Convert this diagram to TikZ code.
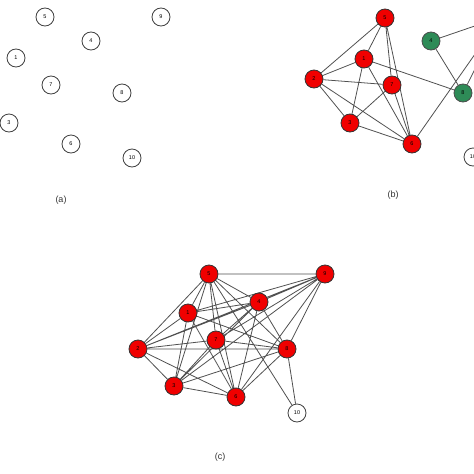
\documentclass[tikz,border=0pt]{standalone}
\usepackage{fontspec}
\setmainfont{Liberation Sans}
\usetikzlibrary{backgrounds}

\definecolor{nodered}{RGB}{240,0,0}
\definecolor{nodegreen}{RGB}{46,139,87}
\definecolor{edgegray}{RGB}{80,80,80}

\begin{document}
\begin{tikzpicture}[x=1pt, y=-1pt,
	vertex/.style={circle, minimum size=18pt, inner sep=0pt,
		draw=black!75, line width=0.8pt, font=\fontsize{5.5}{6}\selectfont},
	plain/.style={vertex, fill=white},
	redv/.style={vertex, fill=nodered, draw=black!80},
	greenv/.style={vertex, fill=nodegreen, draw=black!70},
	edge/.style={draw=edgegray, line width=0.8pt},
	caption/.style={font=\fontsize{9}{10}\selectfont, text=black!80}]
	\useasboundingbox (0,0) rectangle (474,474);
	\clip (0,0) rectangle (474,474);
	% (a) isolated nodes
	\node[plain] (a5) at (45,17) {5};
	\node[plain] (a9) at (161,17) {9};
	\node[plain] (a4) at (91,41) {4};
	\node[plain] (a1) at (16,58) {1};
	\node[plain] (a7) at (51,85) {7};
	\node[plain] (a8) at (122,93) {8};
	\node[plain] (a3) at (9,123) {3};
	\node[plain] (a6) at (71,144) {6};
	\node[plain] (a10) at (132,158) {10};
	\node[caption] (la) at (61,200) {(a)};
	% (b) two communities
	\node[redv] (b5) at (385,18) {5};
	\node[redv] (b1) at (364,59) {1};
	\node[redv] (b2) at (314,79) {2};
	\node[redv] (b7) at (392,85) {7};
	\node[redv] (b3) at (350,123) {3};
	\node[redv] (b6) at (412,144) {6};
	\node[greenv] (b4) at (431,41) {4};
	\node[greenv] (b8) at (463,93) {8};
	\node[plain] (b9) at (501,17) {9};
	\node[plain] (b10) at (473,157) {10};
	\node[caption] (lb) at (393,195) {(b)};
	% (c) merged
	\node[redv] (c5) at (209,274) {5};
	\node[redv] (c9) at (325,274) {9};
	\node[redv] (c4) at (259,302) {4};
	\node[redv] (c1) at (188,313) {1};
	\node[redv] (c7) at (216,340) {7};
	\node[redv] (c2) at (138,349) {2};
	\node[redv] (c8) at (287,349) {8};
	\node[redv] (c3) at (174,386) {3};
	\node[redv] (c6) at (236,397) {6};
	\node[plain] (c10) at (297,413) {10};
	\node[caption] (lc) at (220,457) {(c)};
	\begin{pgfonlayer}{background}
		\draw[edge] (b5) -- (b2) (b5) -- (b1) (b5) -- (b7) (b5) -- (b6)
			(b1) -- (b2) (b1) -- (b3) (b1) -- (b6) (b1) -- (b8)
			(b2) -- (b7) (b2) -- (b3) (b2) -- (b6)
			(b7) -- (b3) (b7) -- (b6) (b3) -- (b6)
			(b4) -- (b8) (b4) -- (b9) (b6) -- (b9) (b8) -- (b9);
		\draw[edge] (c5) -- (c9) (c5) -- (c4) (c5) -- (c1) (c5) -- (c2)
			(c5) -- (c3) (c5) -- (c7) (c5) -- (c6) (c5) -- (c8) (c5) -- (c10)
			(c9) -- (c4) (c9) -- (c1) (c9) -- (c2) (c9) -- (c7)
			(c9) -- (c3) (c9) -- (c6) (c9) -- (c8)
			(c4) -- (c1) (c4) -- (c2) (c4) -- (c7) (c4) -- (c3)
			(c4) -- (c6) (c4) -- (c8)
			(c1) -- (c2) (c1) -- (c3) (c1) -- (c6) (c1) -- (c8)
			(c2) -- (c7) (c2) -- (c8) (c2) -- (c3) (c2) -- (c6)
			(c7) -- (c3) (c7) -- (c6) (c7) -- (c8)
			(c3) -- (c8) (c3) -- (c6) (c6) -- (c8) (c8) -- (c10);
	\end{pgfonlayer}
\end{tikzpicture}
\end{document}
